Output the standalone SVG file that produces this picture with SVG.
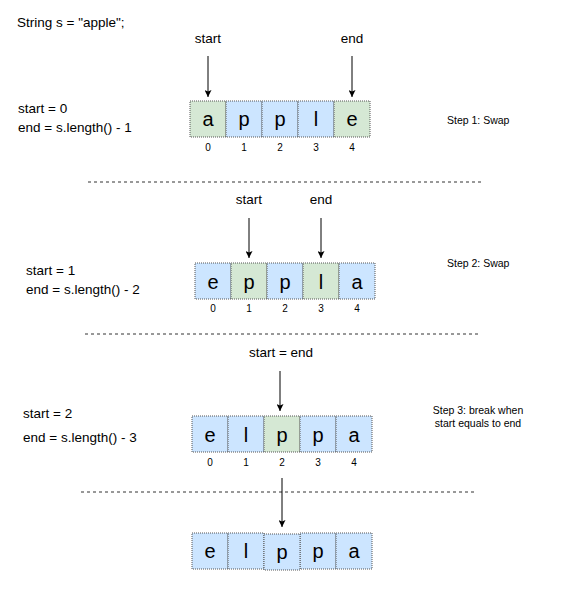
<svg xmlns="http://www.w3.org/2000/svg" width="570" height="591" viewBox="0 0 570 591">
<defs>
<marker id="ah" viewBox="0 0 10 10" refX="10" refY="5" markerWidth="7" markerHeight="7" markerUnits="userSpaceOnUse" orient="auto"><path d="M0,0 L10,5 L0,10 L2,5 Z" fill="#000"/></marker>
<style>
text{font-family:"Liberation Sans",Arial,sans-serif;fill:#000}
.lbl{font-size:13.5px}
.step{font-size:10.5px}
.ch{font-size:20px;text-anchor:middle}
.idx{font-size:10px;text-anchor:middle}
.mid{text-anchor:middle}
.b{fill:#cce5ff;stroke:#555;stroke-width:1;stroke-dasharray:1 1}
.g{fill:#d5e8d4;stroke:#555;stroke-width:1;stroke-dasharray:1 1}
.arr{stroke:#000;stroke-width:1;fill:none;marker-end:url(#ah)}
.sep{stroke:#333;stroke-width:1;stroke-dasharray:3 3;fill:none}
</style>
</defs>
<rect width="570" height="591" fill="#fff"/>
<text id="decl" class="lbl" x="17" y="27">String s = "apple";</text>

<g id="row1">
<text class="lbl mid" x="208" y="43">start</text>
<text class="lbl mid" x="352" y="43">end</text>
<text class="lbl" x="18" y="113">start = 0</text>
<text class="lbl" x="18" y="132">end = s.length() - 1</text>
<text class="step" x="447" y="124">Step 1: Swap</text>
<g id="r1c0"><rect class="g" x="190" y="101" width="36" height="36"/><text class="ch" x="208" y="126">a</text><text class="idx" x="208" y="151">0</text></g>
<g id="r1c1"><rect class="b" x="226" y="101" width="36" height="36"/><text class="ch" x="244" y="126">p</text><text class="idx" x="244" y="151">1</text></g>
<g id="r1c2"><rect class="b" x="262" y="101" width="36" height="36"/><text class="ch" x="280" y="126">p</text><text class="idx" x="280" y="151">2</text></g>
<g id="r1c3"><rect class="b" x="298" y="101" width="36" height="36"/><text class="ch" x="316" y="126">l</text><text class="idx" x="316" y="151">3</text></g>
<g id="r1c4"><rect class="g" x="334" y="101" width="36" height="36"/><text class="ch" x="352" y="126">e</text><text class="idx" x="352" y="151">4</text></g>
</g>

<g id="row2">
<text class="lbl mid" x="249" y="204">start</text>
<text class="lbl mid" x="321" y="204">end</text>
<text class="lbl" x="26" y="275">start = 1</text>
<text class="lbl" x="26" y="294">end = s.length() - 2</text>
<text class="step" x="447" y="267">Step 2: Swap</text>
<g id="r2c0"><rect class="b" x="195" y="263" width="36" height="36"/><text class="ch" x="213" y="289">e</text><text class="idx" x="213" y="312">0</text></g>
<g id="r2c1"><rect class="g" x="231" y="263" width="36" height="36"/><text class="ch" x="249" y="289">p</text><text class="idx" x="249" y="312">1</text></g>
<g id="r2c2"><rect class="b" x="267" y="263" width="36" height="36"/><text class="ch" x="285" y="289">p</text><text class="idx" x="285" y="312">2</text></g>
<g id="r2c3"><rect class="g" x="303" y="263" width="36" height="36"/><text class="ch" x="321" y="289">l</text><text class="idx" x="321" y="312">3</text></g>
<g id="r2c4"><rect class="b" x="339" y="263" width="36" height="36"/><text class="ch" x="357" y="289">a</text><text class="idx" x="357" y="312">4</text></g>
</g>

<g id="row3">
<text class="lbl mid" x="281" y="357">start = end</text>
<text class="lbl" x="23" y="418">start = 2</text>
<text class="lbl" x="23" y="442">end = s.length() - 3</text>
<text class="step mid" x="478" y="414">Step 3: break when</text>
<text class="step mid" x="478" y="427">start equals to end</text>
<g id="r3c0"><rect class="b" x="192" y="416" width="36" height="36"/><text class="ch" x="210" y="442">e</text><text class="idx" x="210" y="466">0</text></g>
<g id="r3c1"><rect class="b" x="228" y="416" width="36" height="36"/><text class="ch" x="246" y="442">l</text><text class="idx" x="246" y="466">1</text></g>
<g id="r3c2"><rect class="g" x="264" y="416" width="36" height="36"/><text class="ch" x="282" y="442">p</text><text class="idx" x="282" y="466">2</text></g>
<g id="r3c3"><rect class="b" x="300" y="416" width="36" height="36"/><text class="ch" x="318" y="442">p</text><text class="idx" x="318" y="466">3</text></g>
<g id="r3c4"><rect class="b" x="336" y="416" width="36" height="36"/><text class="ch" x="354" y="442">a</text><text class="idx" x="354" y="466">4</text></g>
</g>

<g id="row4">
<g id="r4c0"><rect class="b" x="192" y="533" width="36" height="36"/><text class="ch" x="210" y="558">e</text></g>
<g id="r4c1"><rect class="b" x="228" y="533" width="36" height="36"/><text class="ch" x="246" y="558">l</text></g>
<g id="r4c3"><rect class="b" x="300" y="533" width="36" height="36"/><text class="ch" x="318" y="558">p</text></g>
<g id="r4c4"><rect class="b" x="336" y="533" width="36" height="36"/><text class="ch" x="354" y="558">a</text></g>
<g id="r4c2"><rect class="b" x="264" y="534" width="36" height="36"/><text class="ch" x="282" y="559">p</text></g>
</g>

<g id="separators">
<line class="sep" x1="88" y1="182" x2="483" y2="182"/>
<line class="sep" x1="85" y1="334" x2="481" y2="334"/>
<line class="sep" x1="81" y1="492" x2="477" y2="492"/>
</g>

<g id="connectors">
<line class="arr" x1="208" y1="56" x2="208" y2="97"/>
<line class="arr" x1="352" y1="56" x2="352" y2="97"/>
<line class="arr" x1="249" y1="218" x2="249" y2="258"/>
<line class="arr" x1="321" y1="218" x2="321" y2="258"/>
<line class="arr" x1="280" y1="371" x2="280" y2="411"/>
<line class="arr" x1="282" y1="478" x2="282" y2="527"/>
</g>
</svg>
